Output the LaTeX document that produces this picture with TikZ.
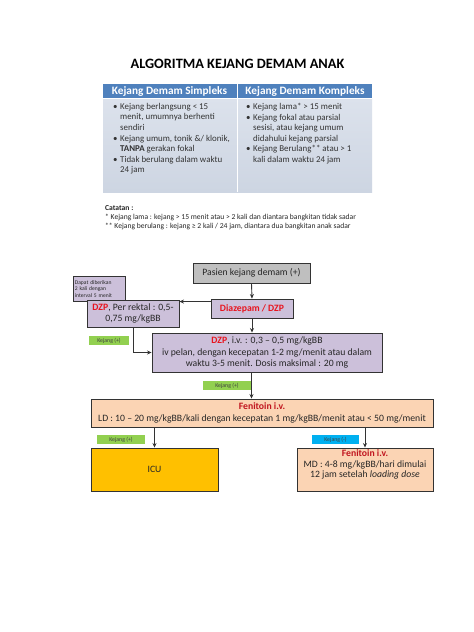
\documentclass[tikz,border=0pt]{standalone}
\usepackage{fontspec}
\setmainfont{Carlito}
\usetikzlibrary{arrows.meta,calc}
\definecolor{bdr}{HTML}{333333}
\definecolor{hdr}{HTML}{4F81BD}
\definecolor{bodytop}{HTML}{DCE2EC}
\definecolor{bodybot}{HTML}{CDD5E2}
\definecolor{graybox}{HTML}{BFBFBF}
\definecolor{lav}{HTML}{CCC0DA}
\definecolor{peach}{HTML}{FBD4B4}
\definecolor{icuc}{HTML}{FFC000}
\definecolor{lgreen}{HTML}{92D050}
\definecolor{lblue}{HTML}{00B0F0}
\definecolor{redt}{HTML}{E8141E}
\definecolor{darkred}{HTML}{C0141E}
\newcommand{\bul}{\makebox[7pt][l]{\textbullet}}
\newcommand{\ind}{\hspace*{7pt}}
\begin{document}
\begin{tikzpicture}[x=1pt,y=-1pt,
  box/.style={draw=bdr, line width=0.9pt, inner sep=1pt, align=center, font=\fontsize{9.7}{11.5}\selectfont, text=black!85},
  lbl/.style={inner sep=0pt, font=\fontsize{5.8}{6}\selectfont, text=black!75, minimum height=9pt},
  arr/.style={-{Stealth[length=4.5pt,width=4pt]}, line width=0.9pt, draw=bdr},
  ln/.style={line width=0.9pt, draw=bdr}]
\useasboundingbox (0,0) rectangle (474,632);
\fill[white] (0,0) rectangle (474,632);

% title
\node[font=\fontsize{14.3}{16}\selectfont\bfseries] (title) at (237.5,64) {ALGORITMA KEJANG DEMAM ANAK};

% table
\fill[hdr] (103,84) rectangle (372,98);
\shade[top color=bodytop, bottom color=bodybot] (103,98) rectangle (372,192);
\draw[white, line width=0.8pt] (237,84) -- (237,192);
\draw[white, line width=0.6pt] (103,98) -- (372,98);
\node[font=\fontsize{11.3}{12}\selectfont\bfseries, text=white] (h1) at (169.5,91) {Kejang Demam Simpleks};
\node[font=\fontsize{11.3}{12}\selectfont\bfseries, text=white] (h2) at (305,91) {Kejang Demam Kompleks};
\node[anchor=north west, align=left, inner sep=0pt, font=\fontsize{8.9}{10.6}\selectfont, text=black!80] (c1) at (113,103) {%
\bul Kejang berlangsung < 15\\
\ind menit, umumnya berhenti\\
\ind sendiri\\
\bul Kejang umum, tonik \&/ klonik,\\
\ind \textbf{TANPA} gerakan fokal\\
\bul Tidak berulang dalam waktu\\
\ind 24 jam};
\node[anchor=north west, align=left, inner sep=0pt, font=\fontsize{8.9}{10.6}\selectfont, text=black!80] (c2) at (246,103) {%
\bul Kejang lama* > 15 menit\\
\bul Kejang fokal atau parsial\\
\ind sesisi, atau kejang umum\\
\ind didahului kejang parsial\\
\bul Kejang Berulang** atau > 1\\
\ind kali dalam waktu 24 jam};

% notes
\node[anchor=north west, align=left, inner sep=0pt, font=\fontsize{7.6}{9.3}\selectfont, text=black!85] (notes) at (105,205) {%
\textbf{Catatan :}\\
* Kejang lama : kejang > 15 menit atau > 2 kali dan diantara bangkitan tidak sadar\\
** Kejang berulang : kejang ≥ 2 kali / 24 jam, diantara dua bangkitan anak sadar};

% flowchart boxes
\node[box, fill=graybox, minimum width=117pt, minimum height=20pt] (pas) at (251.5,273) {Pasien kejang demam (+)};
\node[box, fill=lav, minimum width=82pt, minimum height=19pt] (dia) at (252,308.5) {\textcolor{redt}{\textbf{Diazepam / DZP}}};
\node[box, fill=lav, line width=0.7pt, minimum width=52pt, minimum height=25pt, align=left, font=\fontsize{5.6}{6.3}\selectfont, anchor=north west, text width=49pt, inner sep=1.5pt] (note) at (73,276) {Dapat diberikan\\2 kali dengan\\interval 5 menit};
\node[box, fill=lav, minimum width=92pt, minimum height=27pt] (rek) at (133,313.5) {\textcolor{redt}{\textbf{DZP}}, Per rektal : 0,5-\\0,75 mg/kgBB};
\node[box, fill=lav, minimum width=230pt, minimum height=39pt] (iv) at (267,352.5) {\textcolor{redt}{\textbf{DZP}}, i.v. : 0,3 -- 0,5 mg/kgBB\\iv pelan, dengan kecepatan 1-2 mg/menit atau dalam\\waktu 3-5 menit. Dosis maksimal : 20 mg};
\node[box, fill=peach, minimum width=342pt, minimum height=28pt] (fen) at (262,413) {\textcolor{darkred}{\textbf{Fenitoin i.v.}}\\LD : 10 -- 20 mg/kgBB/kali dengan kecepatan 1 mg/kgBB/menit atau < 50 mg/menit};
\node[box, fill=icuc, minimum width=127pt, minimum height=43pt] (icu) at (154.5,469.5) {ICU};
\node[box, fill=peach, minimum width=136pt, minimum height=43pt, font=\fontsize{9.7}{10.7}\selectfont] (md) at (365,469.5) {\textcolor{darkred}{\textbf{Fenitoin i.v.}}\\MD : 4-8 mg/kgBB/hari dimulai\\12 jam setelah \textit{loading dose}\\[1pt]};

% labels
\node[lbl, fill=lgreen, minimum width=40pt] (g1) at (109,340.5) {Kejang (+)};
\node[lbl, fill=lgreen, minimum width=48pt] (g2) at (227,385.5) {Kejang (+)};
\node[lbl, fill=lgreen, minimum width=48pt] (g3) at (121,439.5) {Kejang (+)};
\node[lbl, fill=lblue, minimum width=47pt] (b1) at (335.5,439.5) {Kejang (-)};

% connectors
\draw[arr] (pas.south) -- (dia.north);
\draw[arr] ([yshift=-3pt]dia.north west) -- ([yshift=-3pt]dia.north west -| rek.east);
\draw[arr] (dia.south) -- (dia.south |- iv.north);
\draw[arr] (rek.south) |- (iv.west);
\draw[arr] (iv.south -| pas.south) -- (fen.north -| pas.south);
\draw[arr] (fen.south -| icu.north) -- (icu.north);
\draw[arr] (fen.south -| md.north) -- (md.north);
\end{tikzpicture}
\end{document}
